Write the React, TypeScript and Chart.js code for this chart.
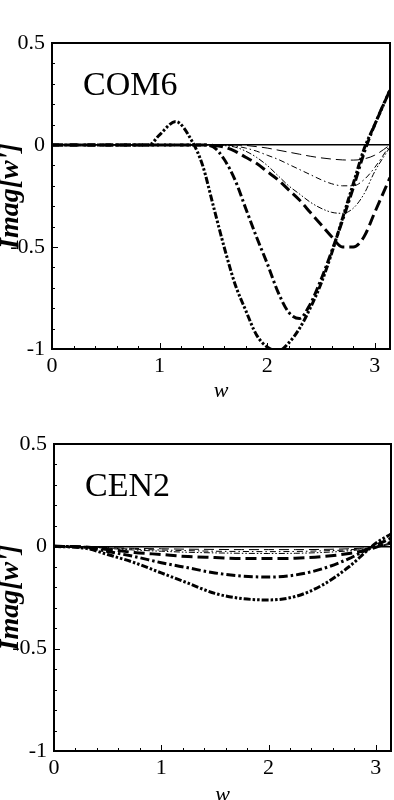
import React, { useEffect, useRef } from "react";
import { Chart, registerables } from "chart.js";

Chart.register(...registerables);

// ---------- data ----------
const X_TICKS = [0, 1, 2, 3];
const Y_TICKS = [-1, -0.5, 0, 0.5];

// COM6 panel
const COM6_W = [0, 0.5, 0.9, 1.0, 1.15, 1.3, 1.4, 1.5, 1.6, 1.7, 1.8, 1.9, 2.0, 2.1, 2.2, 2.3, 2.4, 2.5, 2.6, 2.7, 2.8, 2.9, 3.0, 3.1416];
const COM6_A = [0, 0, 0, 0, 0, 0, 0, 0, 0, 0, -0.002, -0.008, -0.015, -0.025, -0.035, -0.045, -0.055, -0.063, -0.069, -0.073, -0.074, -0.068, -0.05, 0];
const COM6_B = [0, 0, 0, 0, 0, 0, 0, 0, 0, -0.005, -0.015, -0.03, -0.05, -0.07, -0.095, -0.12, -0.145, -0.17, -0.19, -0.2, -0.2, -0.17, -0.11, 0];
const COM6_C = [0, 0, 0, 0, 0, 0, 0, 0, -0.003, -0.01, -0.03, -0.06, -0.1, -0.15, -0.2, -0.24, -0.28, -0.31, -0.33, -0.335, -0.31, -0.24, -0.13, -0.01];
const COM6_D = [0, 0, 0, 0, 0, 0, 0, -0.002, -0.01, -0.03, -0.06, -0.09, -0.13, -0.17, -0.22, -0.27, -0.33, -0.39, -0.45, -0.5, -0.5, -0.45, -0.33, -0.16];
const COM6_E = [0, 0, 0, 0, 0, 0, 0, -0.01, -0.07, -0.17, -0.31, -0.45, -0.58, -0.72, -0.82, -0.85, -0.78, -0.66, -0.52, -0.37, -0.21, -0.04, 0.1, 0.27];
const COM6_F = [0, 0, 0, 0.05, 0.115, 0.02, -0.1, -0.3, -0.5, -0.68, -0.81, -0.93, -0.99, -1.01, -0.97, -0.9, -0.8, -0.68, -0.53, -0.36, -0.19, -0.02, 0.1, 0.27];

// CEN2 panel
const CEN2_W = [0, 0.3, 0.5, 0.75, 1.0, 1.25, 1.5, 1.75, 2.0, 2.25, 2.5, 2.75, 2.9, 3.0, 3.1416];
const CEN2_A = [0, -0.002, -0.006, -0.01, -0.012, -0.014, -0.015, -0.016, -0.016, -0.016, -0.015, -0.012, -0.008, -0.003, 0.01];
const CEN2_B = [0, -0.002, -0.008, -0.014, -0.018, -0.021, -0.024, -0.025, -0.026, -0.025, -0.022, -0.017, -0.01, -0.003, 0.015];
const CEN2_C = [0, -0.003, -0.01, -0.018, -0.024, -0.029, -0.032, -0.034, -0.035, -0.034, -0.03, -0.022, -0.013, -0.004, 0.018];
const CEN2_D = [0, -0.003, -0.015, -0.03, -0.04, -0.05, -0.055, -0.06, -0.06, -0.058, -0.05, -0.035, -0.02, -0.005, 0.02];
const CEN2_E = [0, -0.005, -0.025, -0.05, -0.08, -0.105, -0.13, -0.145, -0.15, -0.14, -0.11, -0.06, -0.02, 0.005, 0.04];
const CEN2_F = [0, -0.01, -0.04, -0.08, -0.13, -0.18, -0.23, -0.255, -0.262, -0.245, -0.19, -0.1, -0.03, 0.015, 0.06];

// ---------- styles ----------
const STYLES = [
  { width: 1, dash: [10, 5] },
  { width: 1, dash: [6, 3, 1.5, 3] },
  { width: 1, dash: [6, 2, 1.5, 2, 1.5, 2] },
  { width: 3, dash: [11, 5] },
  { width: 3, dash: [9, 3, 2.5, 3] },
  { width: 3, dash: [7, 2, 2.5, 2, 2.5, 2] },
];

const SERIF = '"Liberation Serif", "Times New Roman", serif';

function makeDatasets(xs: number[], series: number[][]) {
  return series.map((ys, i) => ({
    data: xs.map((x, j) => ({ x, y: ys[j] })),
    borderColor: "#000",
    borderWidth: STYLES[i].width,
    borderDash: STYLES[i].dash,
    borderCapStyle: "butt" as const,
    pointRadius: 0,
    fill: false,
    cubicInterpolationMode: "monotone" as const,
  }));
}

const framePlugin = {
  id: "frame",
  afterDatasetsDraw(chart: any) {
    const { ctx, chartArea: a, scales } = chart;
    const x = scales.x;
    const y = scales.y;
    ctx.save();
    ctx.strokeStyle = "#000";
    ctx.lineWidth = 1;
    for (let k = -10; k <= 5; k++) {
      const v = k / 10;
      const py = Math.round(y.getPixelForValue(v)) + 0.5;
      const len = k % 5 === 0 ? 6 : 3;
      ctx.beginPath();
      ctx.moveTo(a.left, py);
      ctx.lineTo(a.left + len, py);
      ctx.stroke();
    }
    for (let k = 0; k <= 15; k++) {
      const v = k / 5;
      const px = Math.round(x.getPixelForValue(v)) + 0.5;
      const len = k % 5 === 0 ? 6 : 3;
      ctx.beginPath();
      ctx.moveTo(px, a.bottom);
      ctx.lineTo(px, a.bottom - len);
      ctx.stroke();
    }
    ctx.lineWidth = 2;
    ctx.strokeRect(a.left, a.top, a.right - a.left, a.bottom - a.top);
    const label = chart.options.plugins.frame.label;
    ctx.fillStyle = "#000";
    ctx.font = `34px ${SERIF}`;
    ctx.textBaseline = "alphabetic";
    ctx.fillText(label, a.left + 31, a.top + 52);
    ctx.restore();
  },
};

type PanelProps = {
  label: string;
  xs: number[];
  series: number[][];
  height: number;
  padTop: number;
  padRight: number;
  yWidth: number;
  xHeight: number;
  titleXPad: number;
};

function Panel(p: PanelProps) {
  const ref = useRef<HTMLCanvasElement | null>(null);
  useEffect(() => {
    if (!ref.current) return;
    const chart = new Chart(ref.current, {
      type: "line",
      data: { datasets: makeDatasets(p.xs, p.series) as any },
      plugins: [framePlugin],
      options: {
        responsive: false,
        animation: false,
        layout: { padding: { top: p.padTop, right: p.padRight, left: 0, bottom: 0 } },
        plugins: {
          legend: { display: false },
          tooltip: { enabled: false },
          frame: { label: p.label },
        } as any,
        scales: {
          x: {
            type: "linear",
            min: 0,
            max: Math.PI,
            afterBuildTicks: (s: any) => {
              s.ticks = X_TICKS.map((v) => ({ value: v }));
            },
            afterFit: (s: any) => {
              s.height = p.xHeight;
            },
            grid: { display: false },
            border: { display: false },
            ticks: {
              color: "#000",
              font: { family: SERIF, size: 22 },
              padding: -4,
              maxRotation: 0,
              autoSkip: false,
              callback: (v: any) => String(v),
            },
            title: {
              display: true,
              text: "w",
              color: "#000",
              font: { family: SERIF, size: 22, style: "italic", lineHeight: 0.8 },
              padding: { top: 0, bottom: p.titleXPad },
            },
          },
          y: {
            type: "linear",
            min: -1,
            max: 0.5,
            afterBuildTicks: (s: any) => {
              s.ticks = Y_TICKS.map((v) => ({ value: v }));
            },
            afterFit: (s: any) => {
              s.width = p.yWidth;
            },
            border: { display: false },
            grid: {
              drawTicks: false,
              lineWidth: 1.5,
              color: (c: any) => (c.tick && c.tick.value === 0 ? "#000" : "rgba(0,0,0,0)"),
            },
            ticks: {
              color: "#000",
              font: { family: SERIF, size: 22 },
              padding: 7,
              callback: (v: any) => String(v),
            },
            title: {
              display: true,
              text: "Imag[w']",
              color: "#000",
              font: { family: SERIF, size: 28, style: "italic", weight: "bold", lineHeight: 0.8 },
              padding: 0,
            },
          },
        },
      },
    });
    return () => chart.destroy();
  }, []);
  return <canvas ref={ref} width={394} height={p.height} style={{ display: "block" }} />;
}

export default function App() {
  return (
    <div style={{ position: "fixed", left: 0, top: 0, width: 394, height: 800, overflow: "hidden", background: "#fff" }}>
      <div style={{ position: "absolute", left: 0, top: 0 }}>
        <Panel
          label="COM6"
          xs={COM6_W}
          series={[COM6_A, COM6_B, COM6_C, COM6_D, COM6_E, COM6_F]}
          height={400}
          padTop={43}
          padRight={4}
          yWidth={52}
          xHeight={51}
          titleXPad={0}
        />
      </div>
      <div style={{ position: "absolute", left: 0, top: 400 }}>
        <Panel
          label="CEN2"
          xs={CEN2_W}
          series={[CEN2_A, CEN2_B, CEN2_C, CEN2_D, CEN2_E, CEN2_F]}
          height={412}
          padTop={44}
          padRight={3}
          yWidth={54}
          xHeight={61}
          titleXPad={8}
        />
      </div>
    </div>
  );
}
